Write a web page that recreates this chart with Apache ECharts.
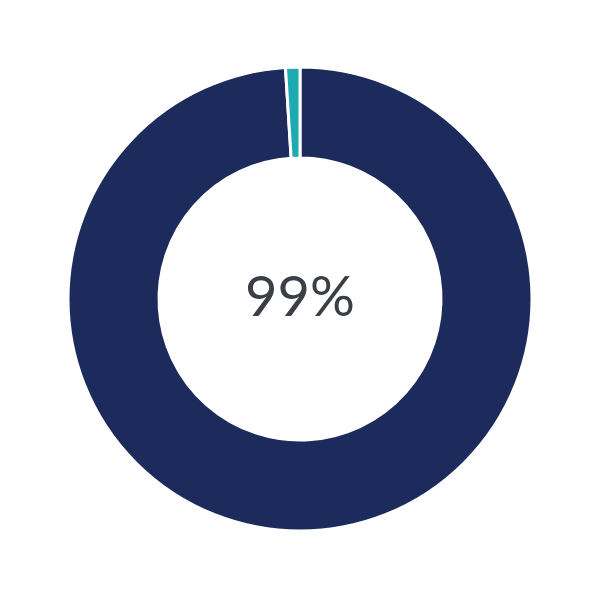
<!DOCTYPE html>
<html><head><meta charset="utf-8">
<script src="https://cdn.jsdelivr.net/npm/echarts@6/dist/echarts.min.js"></script>
<style>html,body{margin:0;padding:0;background:#fff}#c{width:600px;height:600px}</style>
</head><body><div id="c"></div>
<script>
const categories = ['Yes', 'No'];
const values = [99, 1];
const centerLabel = '99%';
const colors = ['#1c2b5b', '#1fa9b1'];

const chart = echarts.init(document.getElementById('c'), null, {renderer: 'canvas'});
chart.setOption({
  animation: false,
  color: colors,
  graphic: [{
    type: 'text', left: 'center', top: 270,
    style: {text: centerLabel, font: 'normal 56px Lato', fill: '#3a3f45', textAlign: 'center'}
  }],
  series: [{
    type: 'pie',
    center: [300, 299],
    radius: [141, 232],
    startAngle: 90,
    clockwise: true,
    label: {show: false},
    labelLine: {show: false},
    itemStyle: {borderColor: '#fff', borderWidth: 3},
    data: categories.map((c, i) => ({name: c, value: values[i]}))
  }]
});
</script></body></html>
